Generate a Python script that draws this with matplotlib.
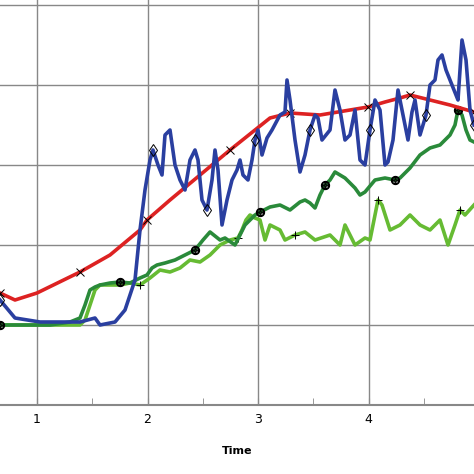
import numpy as np
import matplotlib.pyplot as plt

# values (pixel readings, calibrated below to Time / value units)
red_px = [(0, 293), (15, 300), (37, 293), (80, 272), (110, 255), (140, 230), (147, 220), (170, 200),
          (200, 175), (230, 150), (255, 130), (270, 118), (290, 113), (320, 115), (350, 110),
          (368, 107), (385, 102), (400, 98), (410, 95), (430, 100), (450, 105), (474, 112)]
blue_px = [(0, 300), (15, 318), (40, 322), (80, 322), (95, 318), (100, 325), (115, 322), (125, 310),
           (135, 280), (140, 230), (145, 190), (150, 160), (153, 150), (158, 165), (162, 175),
           (165, 135), (170, 130), (175, 165), (180, 180), (185, 190), (190, 160), (195, 150),
           (198, 160), (202, 200), (207, 210), (212, 180), (215, 150), (218, 170), (222, 225),
           (227, 200), (232, 180), (237, 170), (240, 160), (243, 175), (248, 180), (252, 160),
           (255, 140), (258, 130), (262, 155), (267, 138), (272, 130), (280, 115), (285, 112),
           (287, 80), (290, 100), (295, 140), (300, 172), (305, 155), (310, 130), (315, 115),
           (318, 118), (322, 140), (330, 130), (335, 90), (340, 110), (345, 140), (350, 135),
           (355, 110), (360, 160), (365, 165), (370, 130), (375, 100), (380, 110), (385, 165),
           (388, 162), (393, 140), (398, 90), (402, 110), (408, 140), (412, 112), (415, 100),
           (420, 135), (426, 115), (430, 85), (435, 80), (438, 60), (442, 55), (446, 70),
           (450, 80), (456, 95), (458, 100), (462, 40), (466, 60), (470, 110), (474, 125)]
dgreen_px = [(0, 325), (50, 325), (70, 322), (80, 318), (85, 305), (90, 290), (95, 287), (100, 285),
             (110, 283), (120, 282), (130, 283), (140, 278), (147, 275), (152, 268), (157, 265),
             (165, 263), (175, 260), (185, 255), (195, 250), (203, 240), (210, 232), (215, 236),
             (220, 240), (225, 238), (235, 245), (245, 225), (255, 215), (260, 212), (270, 207),
             (280, 205), (290, 210), (300, 202), (305, 200), (310, 203), (315, 208), (320, 195),
             (325, 185), (330, 180), (335, 172), (345, 178), (355, 188), (360, 195), (365, 192),
             (375, 180), (385, 178), (395, 180), (400, 178), (410, 168), (420, 155), (430, 148),
             (440, 145), (445, 140), (450, 135), (455, 125), (458, 110), (462, 115), (466, 130),
             (470, 140), (474, 142)]
lgreen_px = [(0, 325), (80, 325), (85, 320), (90, 305), (95, 290), (100, 285), (110, 285), (120, 285),
             (125, 284), (130, 283), (140, 285), (150, 278), (160, 270), (170, 272), (180, 268),
             (190, 260), (200, 262), (210, 255), (220, 245), (230, 240), (238, 238), (242, 230),
             (246, 220), (250, 215), (255, 218), (260, 220), (265, 240), (270, 225), (280, 230),
             (285, 240), (295, 235), (305, 232), (315, 240), (330, 235), (340, 245), (345, 225),
             (355, 245), (365, 238), (370, 240), (375, 215), (378, 200), (382, 205), (390, 230),
             (400, 225), (410, 215), (420, 225), (430, 230), (440, 220), (448, 245), (455, 225),
             (460, 210), (465, 215), (474, 205)]
xticks = [1, 2, 3, 4]


def to_data(pts):
    p = np.array(pts, dtype=float)
    return 1 + (p[:, 0] - 37) / 110.5, (405 - p[:, 1]) / 80


fig = plt.figure(figsize=(4.74, 4.74), dpi=100)
ax = fig.add_axes([0, 69 / 474, 1, 405 / 474])

series = [
    (lgreen_px, "#66bb33", "+", 10),
    (dgreen_px, "#2a8a3a", "$\\oplus$", 9),
    (red_px, "#dd2222", "x", 3),
    (blue_px, "#2a3fa0", "d", 12),
]
for pts, col, mk, every in series:
    x, y = to_data(pts)
    ax.plot(x, y, color=col, lw=2.6, marker=mk, markevery=every, ms=6,
            mfc="none", mec="black", mew=0.7)

ax.set_xticks(xticks)
ax.set_xticks([1.5, 2.5, 3.5, 4.5], minor=True)
ax.set_yticks([1, 2, 3, 4, 5])
ax.set_yticklabels([])
ax.set_xlim(1 - 37 / 110.5, 1 + (474 - 37) / 110.5)
ax.set_ylim(0, 405 / 80)
ax.grid(True, color="#888888", lw=1)
ax.tick_params(axis="y", length=0)
ax.tick_params(axis="x", direction="in", length=5, color="#888888", labelsize=9, pad=6)
ax.tick_params(axis="x", which="minor", direction="in", length=5, color="#888888")
for s in ["top", "right", "left"]:
    ax.spines[s].set_visible(False)
ax.spines["bottom"].set_color("#888888")
ax.spines["bottom"].set_linewidth(1.5)
ax.set_xlabel("Time", fontsize=8, fontweight="bold", labelpad=14)

fig.savefig("out.png", dpi=100)
